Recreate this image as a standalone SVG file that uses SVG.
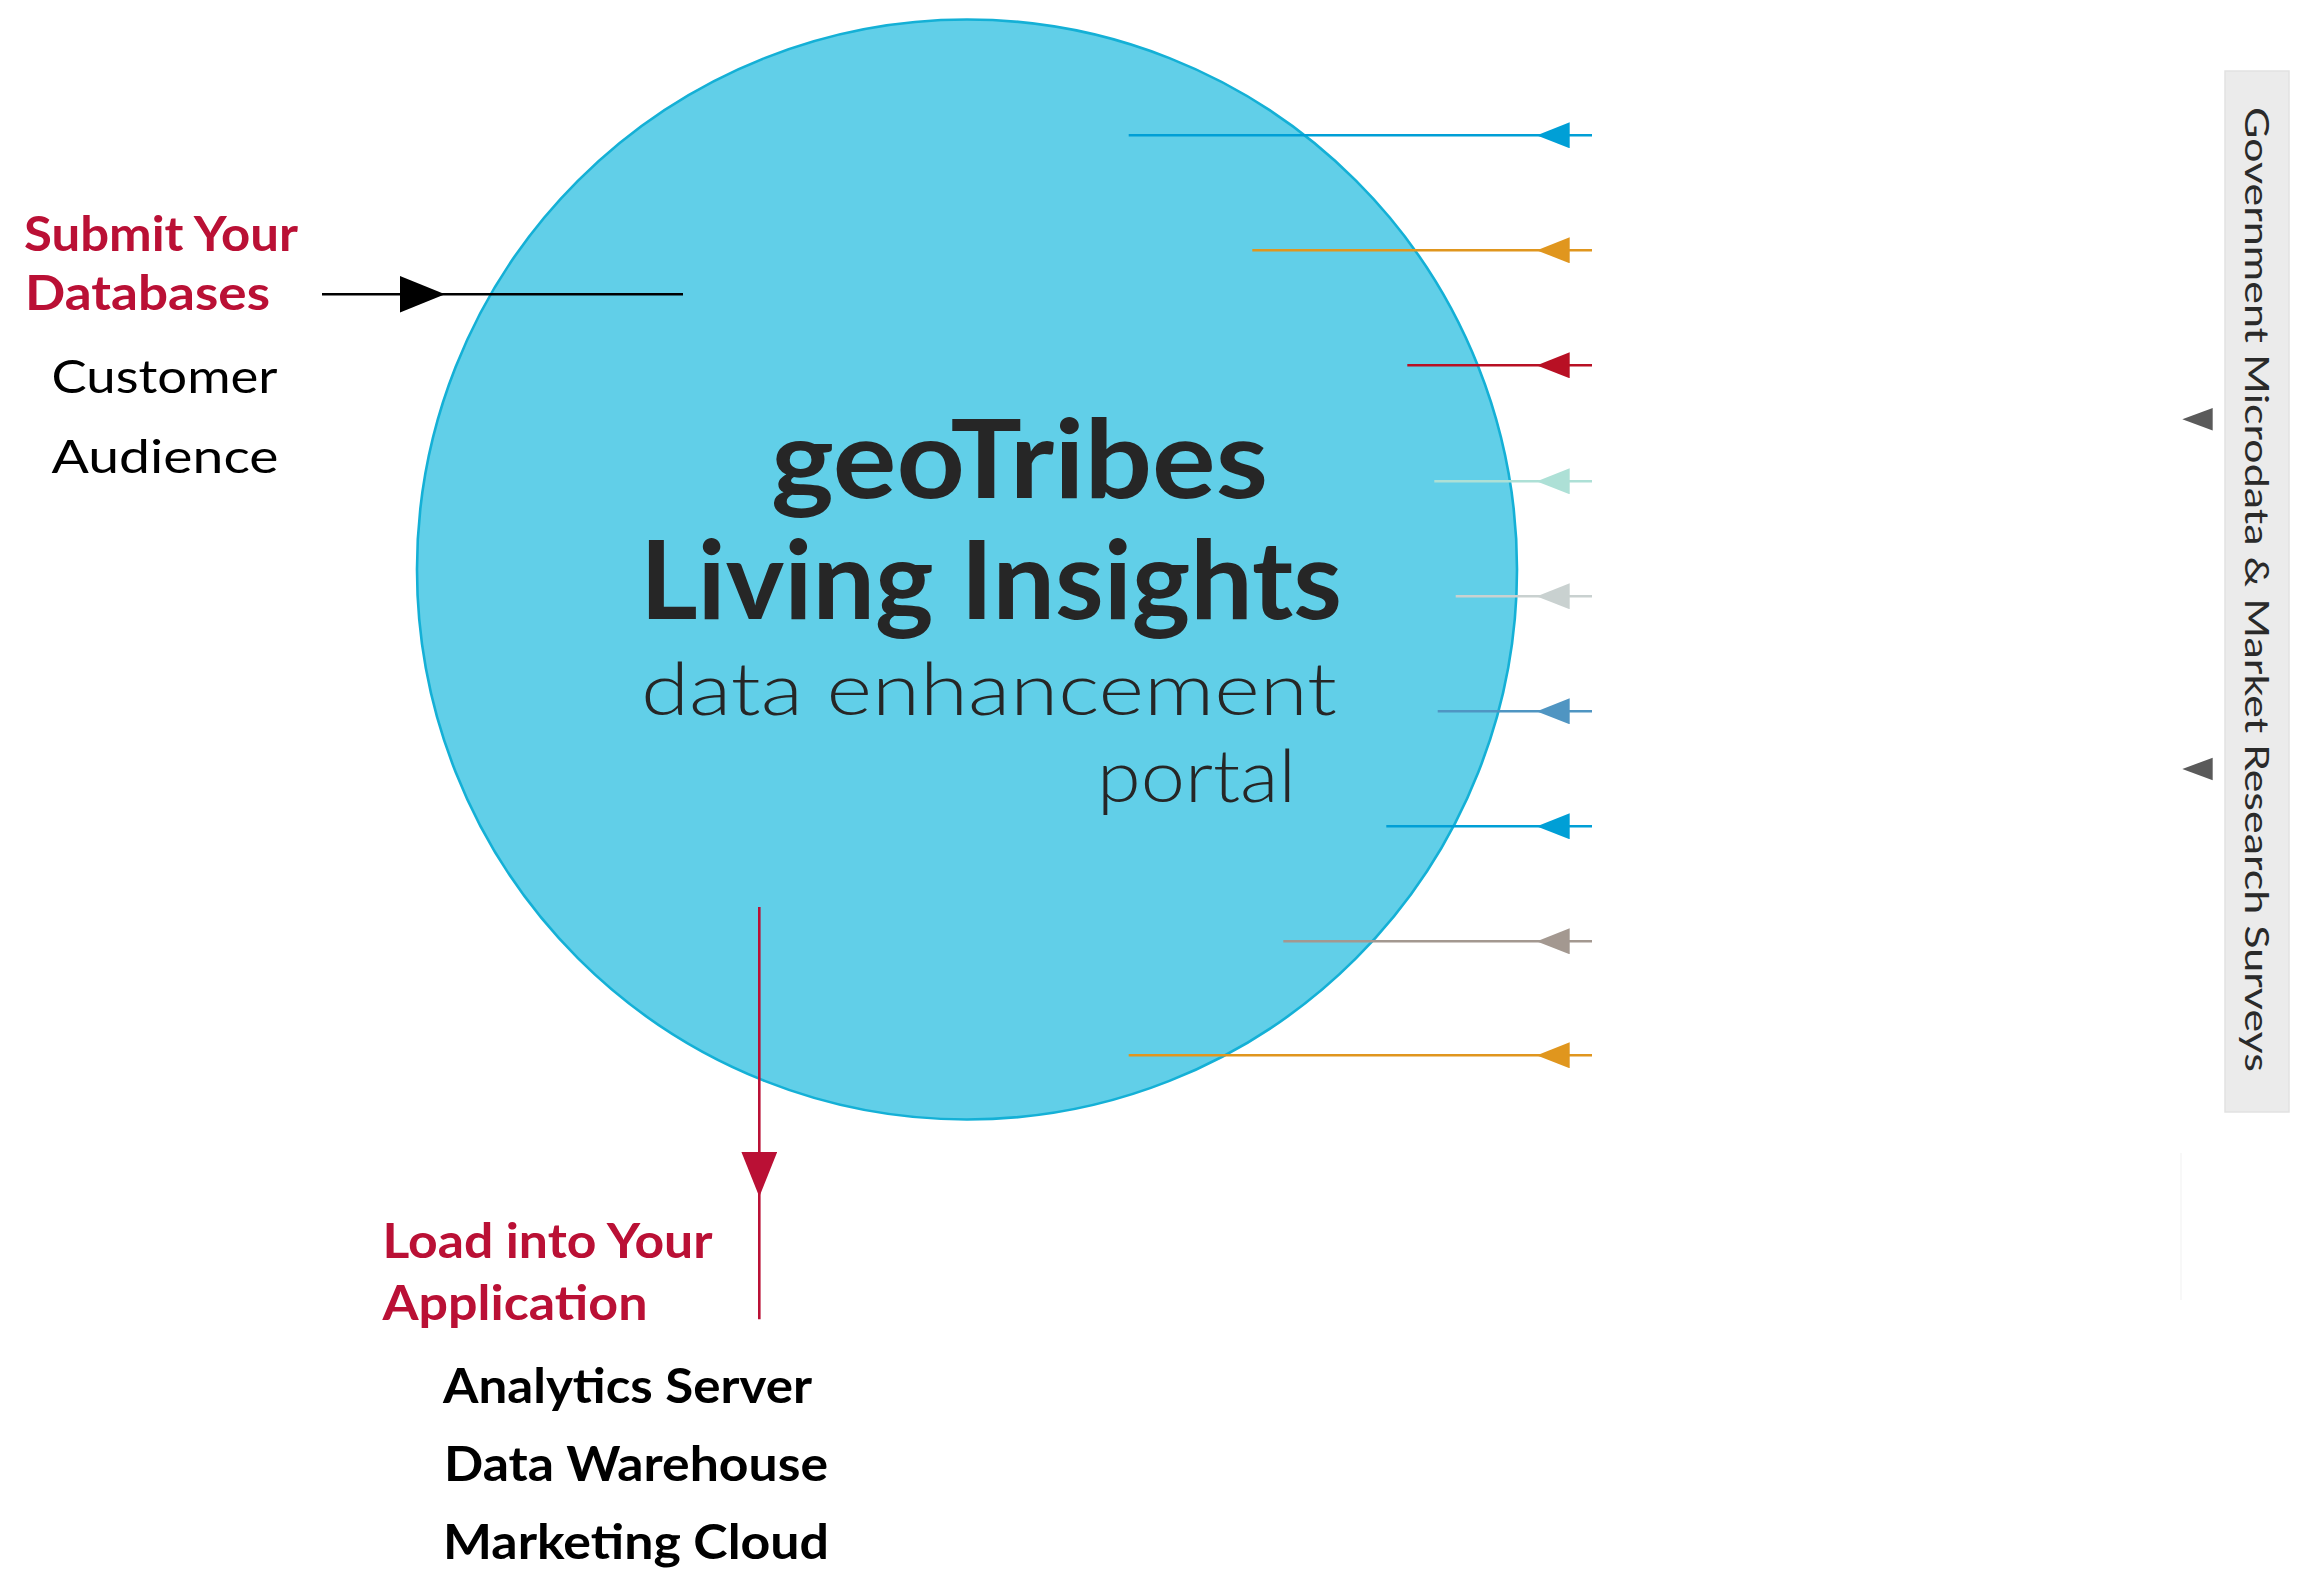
<svg xmlns="http://www.w3.org/2000/svg" width="2313" height="1589" viewBox="0 0 2313 1589">
<style>
text{font-family:"Lato","Liberation Sans",sans-serif}
.red{fill:#BA1035;font-weight:700;font-size:48px}
.blk{fill:#000;font-weight:700;font-size:48px}
.src{fill:#000;font-weight:400;font-size:46px}
.ttl{fill:#262626;font-weight:700;font-size:110px}
.sub{fill:#262626;font-weight:300;font-size:73px}
.vert{fill:#2A2A2A;font-weight:400;font-size:33px}
.ln{fill:none;stroke-width:2.6}
.tri{fill:#5A5A5A}
</style>
<defs>
<marker id="mBlk" markerUnits="userSpaceOnUse" viewBox="0 0 45 37" markerWidth="45" markerHeight="37" refX="45" refY="18.3" orient="auto"><path d="M0,0 L45,18.3 L0,36.6 Z" fill="#000"/></marker>
<marker id="mRed" markerUnits="userSpaceOnUse" viewBox="0 0 45 36" markerWidth="45" markerHeight="36" refX="45" refY="18" orient="auto"><path d="M0,0 L45,18 L0,36 Z" fill="#BA1035"/></marker>
<marker id="mB1" markerUnits="userSpaceOnUse" viewBox="0 0 33 26" markerWidth="33" markerHeight="26" refX="33" refY="13" orient="auto"><path d="M0,0 L33,13 L0,26 Z" fill="#009FD6"/></marker>
<marker id="mOr" markerUnits="userSpaceOnUse" viewBox="0 0 33 26" markerWidth="33" markerHeight="26" refX="33" refY="13" orient="auto"><path d="M0,0 L33,13 L0,26 Z" fill="#E0961E"/></marker>
<marker id="mRd" markerUnits="userSpaceOnUse" viewBox="0 0 33 26" markerWidth="33" markerHeight="26" refX="33" refY="13" orient="auto"><path d="M0,0 L33,13 L0,26 Z" fill="#B81024"/></marker>
<marker id="mMi" markerUnits="userSpaceOnUse" viewBox="0 0 33 26" markerWidth="33" markerHeight="26" refX="33" refY="13" orient="auto"><path d="M0,0 L33,13 L0,26 Z" fill="#ADE0D6"/></marker>
<marker id="mGy" markerUnits="userSpaceOnUse" viewBox="0 0 33 26" markerWidth="33" markerHeight="26" refX="33" refY="13" orient="auto"><path d="M0,0 L33,13 L0,26 Z" fill="#C9D1D0"/></marker>
<marker id="mSt" markerUnits="userSpaceOnUse" viewBox="0 0 33 26" markerWidth="33" markerHeight="26" refX="33" refY="13" orient="auto"><path d="M0,0 L33,13 L0,26 Z" fill="#4F95C2"/></marker>
<marker id="mTp" markerUnits="userSpaceOnUse" viewBox="0 0 33 26" markerWidth="33" markerHeight="26" refX="33" refY="13" orient="auto"><path d="M0,0 L33,13 L0,26 Z" fill="#A39890"/></marker>
</defs>
<rect width="2313" height="1589" fill="#fff"/>

<g id="portal">
<circle cx="967" cy="569.5" r="550" fill="#61CFE8" stroke="#14B0D6" stroke-width="2.6"/>
<text class="ttl" x="771" y="498" textLength="497" lengthAdjust="spacingAndGlyphs">geoTribes</text>
<text class="ttl" x="640" y="619" textLength="702" lengthAdjust="spacingAndGlyphs">Living Insights</text>
<text class="sub" x="641" y="715" textLength="696" lengthAdjust="spacingAndGlyphs">data enhancement</text>
<text class="sub" x="1097" y="802" textLength="199" lengthAdjust="spacingAndGlyphs">portal</text>
</g>

<g id="submit-databases">
<text class="red" x="24" y="251" textLength="274" lengthAdjust="spacingAndGlyphs">Submit Your</text>
<text class="red" x="25" y="310" textLength="245" lengthAdjust="spacingAndGlyphs">Databases</text>
<text class="src" x="51.5" y="393" textLength="226" lengthAdjust="spacingAndGlyphs">Customer</text>
<text class="src" x="51.5" y="473" textLength="227" lengthAdjust="spacingAndGlyphs">Audience</text>
</g>

<g id="load-application">
<text class="red" x="382.5" y="1258" textLength="330" lengthAdjust="spacingAndGlyphs">Load into Your</text>
<text class="red" x="382.5" y="1320" textLength="265" lengthAdjust="spacingAndGlyphs">Application</text>
<text class="blk" x="443" y="1403" textLength="369" lengthAdjust="spacingAndGlyphs">Analytics Server</text>
<text class="blk" x="444" y="1481" textLength="384" lengthAdjust="spacingAndGlyphs">Data Warehouse</text>
<text class="blk" x="443" y="1559" textLength="386" lengthAdjust="spacingAndGlyphs">Marketing Cloud</text>
</g>

<g id="gov-surveys">
<rect x="2225" y="71" width="64" height="1041" fill="#EBEBEB" stroke="#E2E2E2" stroke-width="1.5"/>
<text class="vert" transform="translate(2245,107) rotate(90)" x="0" y="0" textLength="965" lengthAdjust="spacingAndGlyphs">Government Microdata &amp; Market Research Surveys</text>
</g>

<g id="connectors">
<path class="ln" stroke="#000" d="M322 294.3 L445 294.3 L683 294.3" marker-mid="url(#mBlk)"/>
<path class="ln" stroke="#BA1035" d="M759.3 907 L759.3 1196.7 L759.3 1319.3" marker-mid="url(#mRed)"/>
<path class="ln" stroke="#009FD6" d="M1592 135.3 L1536.7 135.3 L1128.7 135.3" marker-mid="url(#mB1)"/>
<path class="ln" stroke="#E0961E" d="M1592 250.3 L1536.7 250.3 L1252.3 250.3" marker-mid="url(#mOr)"/>
<path class="ln" stroke="#B81024" d="M1592 365.3 L1536.7 365.3 L1407.3 365.3" marker-mid="url(#mRd)"/>
<path class="ln" stroke="#ADE0D6" d="M1592 481.3 L1536.7 481.3 L1434.3 481.3" marker-mid="url(#mMi)"/>
<path class="ln" stroke="#C9D1D0" d="M1592 596.3 L1536.7 596.3 L1455.7 596.3" marker-mid="url(#mGy)"/>
<path class="ln" stroke="#4F95C2" d="M1592 711.3 L1536.7 711.3 L1437.7 711.3" marker-mid="url(#mSt)"/>
<path class="ln" stroke="#009FD6" d="M1592 826.3 L1536.7 826.3 L1386.3 826.3" marker-mid="url(#mB1)"/>
<path class="ln" stroke="#A39890" d="M1592 941.3 L1536.7 941.3 L1283.3 941.3" marker-mid="url(#mTp)"/>
<path class="ln" stroke="#E0961E" d="M1592 1055.3 L1536.7 1055.3 L1128.7 1055.3" marker-mid="url(#mOr)"/>
<polygon class="tri" points="2182.3,419.3 2212.7,408 2212.7,430.6"/>
<polygon class="tri" points="2182.3,769 2212.7,757.7 2212.7,780.3"/>
<line x1="2181" y1="1153" x2="2181" y2="1300" stroke="#F6F6F6" stroke-width="1.5"/>
</g>
</svg>
